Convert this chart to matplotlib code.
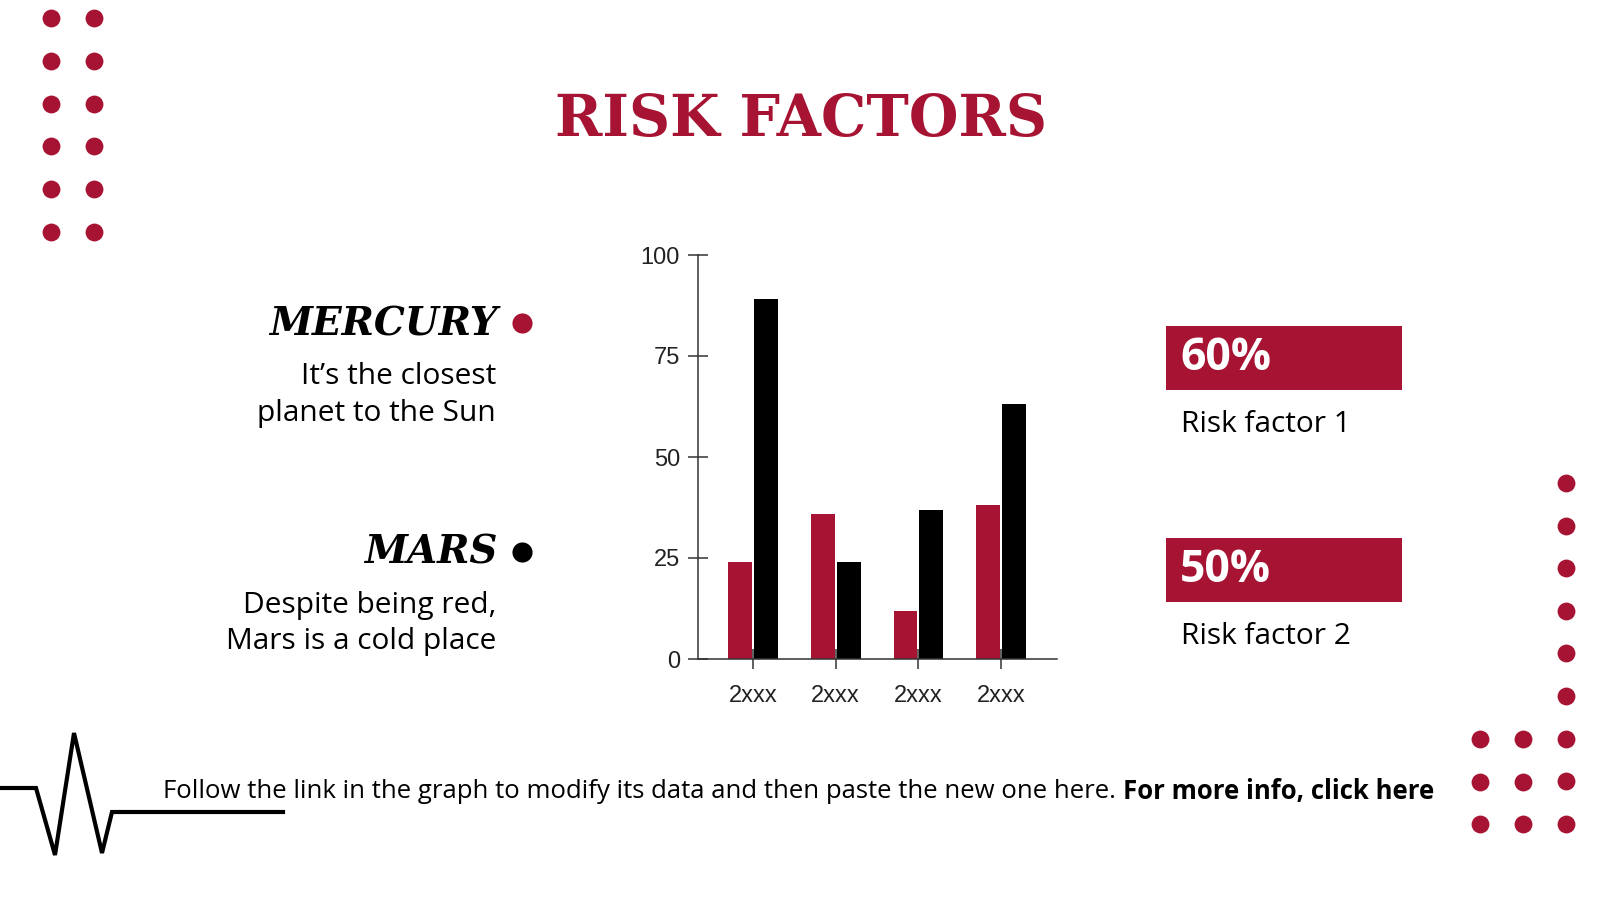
import numpy as np
import matplotlib.pyplot as plt
from matplotlib.patches import Rectangle

RED = '#A71332'
W, H = 1600, 900
SANS = 'Open Sans'

# chart data
years = ['2xxx', '2xxx', '2xxx', '2xxx']
series_red = [24, 36, 12, 38]
series_black = [89, 24, 37, 63]
yticks = [0, 25, 50, 75, 100]

planets = ['MERCURY', 'MARS']
planet_notes = [["It\u2019s the closest", 'planet to the Sun'],
                ['Despite being red,', 'Mars is a cold place']]
risk_values = ['60%', '50%']
risk_labels = ['Risk factor 1', 'Risk factor 2']

footer = 'Follow the link in the graph to modify its data and then paste the new one here.'
footer_bold = 'For more info, click here'

fig = plt.figure(figsize=(16, 9), dpi=100)
fig.patch.set_facecolor('white')

# background layer in pixel coordinates
bg = fig.add_axes([0, 0, 1, 1])
bg.set_xlim(0, W)
bg.set_ylim(H, 0)
bg.axis('off')

# dots decoration
dot_s = 165
for cx in (51, 94):
    for k in range(6):
        bg.scatter(cx, 18 + k * 42.8, s=dot_s, color=RED, lw=0)
for k in range(9):
    bg.scatter(1566, 483 + k * 42.6, s=dot_s, color=RED, lw=0)
for cx in (1480, 1523):
    for k in range(3):
        bg.scatter(cx, 739 + k * 42.6, s=dot_s, color=RED, lw=0)

# heartbeat line
bg.plot([0, 36, 55, 74, 102, 112, 283], [788, 788, 855, 733, 853, 812, 812],
        color='black', lw=3, solid_joinstyle='miter')

# title
bg.text(801, 120, 'RISK FACTORS', ha='center', va='center', color=RED,
        fontsize=41, fontweight='bold', family='DejaVu Serif')

# planets on the left
head_y = [324, 553]
note_y = [[377, 413], [605, 642]]
dot_colors = [RED, 'black']
for i, name in enumerate(planets):
    bg.text(498, head_y[i], name, ha='right', va='center', fontsize=28,
            fontweight='bold', style='italic', family='DejaVu Serif', color='black')
    bg.scatter(522, head_y[i] - 1, s=210, color=dot_colors[i], lw=0)
    for j, line in enumerate(planet_notes[i]):
        bg.text(496, note_y[i][j], line, ha='right', va='center', fontsize=21.5,
                family=SANS, color='black')

# risk boxes on the right
box_top = [326, 538]
for i, val in enumerate(risk_values):
    bg.add_patch(Rectangle((1166, box_top[i]), 236, 64, color=RED, lw=0))
    bg.text(1180, box_top[i] + 33, val, ha='left', va='center', fontsize=32,
            fontweight='bold', family=SANS, color='white')
    bg.text(1181, box_top[i] + 99, risk_labels[i], ha='left', va='center',
            fontsize=21.5, family=SANS, color='black')

# footer
t1 = bg.text(163, 791, footer + ' ', ha='left', va='center', fontsize=18.5,
             family=SANS, color='black')
r = fig.canvas.get_renderer()
bb = t1.get_window_extent(renderer=r)
bg.text(bb.x1, 791, footer_bold, ha='left', va='center', fontsize=18.5,
        family=SANS, fontweight='bold', color='black')

# bar chart
ax = fig.add_axes([698 / W, 1 - 659 / H, (1057 - 698) / W, 404 / H])
x = np.arange(len(years))
ax.bar(x - 0.155, series_red, width=0.285, color=RED)
ax.bar(x + 0.155, series_black, width=0.29, color='black')
ax.set_xlim(-0.665, 3.676)
ax.set_ylim(0, 100)
ax.set_yticks(yticks)
ax.set_xticks(x)
ax.set_xticklabels(years)
for s in ('top', 'right'):
    ax.spines[s].set_visible(False)
for s in ('left', 'bottom'):
    ax.spines[s].set_color('#333333')
    ax.spines[s].set_linewidth(1.1)
ax.tick_params(direction='inout', length=14, width=1.1, color='#333333',
               labelsize=17, labelcolor='#222222')
ax.tick_params(axis='y', pad=6)
ax.tick_params(axis='x', pad=12)
for lab in ax.get_xticklabels() + ax.get_yticklabels():
    lab.set_family('Liberation Sans')
ax.patch.set_alpha(0)

fig.savefig('out.png', dpi=100, facecolor='white')
